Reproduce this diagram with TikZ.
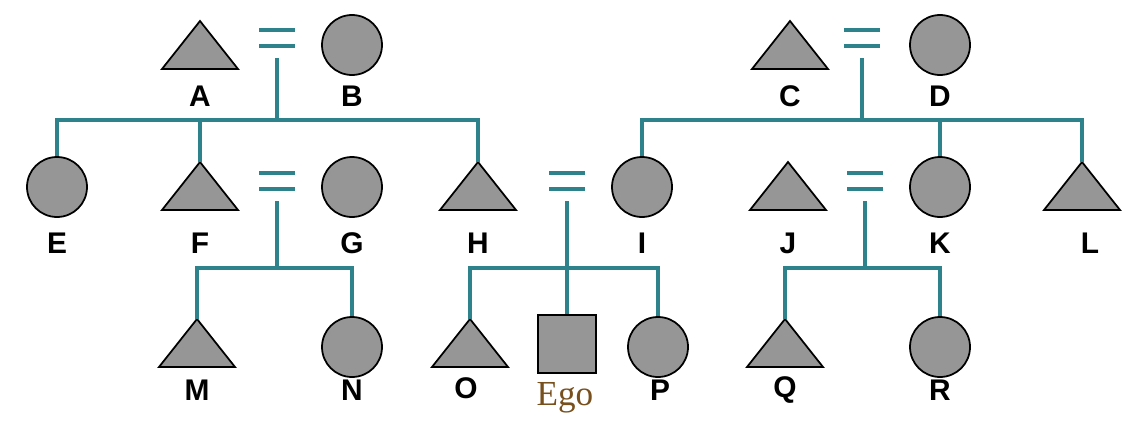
\documentclass[tikz,border=0pt]{standalone}
\usepackage{fontspec}
\setmainfont{Liberation Sans}
\newfontfamily\egofont{Liberation Serif}
\definecolor{teal1}{RGB}{45,130,140}
\definecolor{shp}{RGB}{150,150,150}
\definecolor{egoc}{RGB}{120,80,30}
\begin{document}
\begin{tikzpicture}[x=0.02cm,y=-0.02cm,
  lin/.style={teal1,line width=1.8pt},
  lbl/.style={font=\fontsize{17}{17}\bfseries\selectfont,inner sep=0},
  circ/.style={circle,draw=black,fill=shp,line width=1pt,minimum size=60*0.02cm,inner sep=0}]
\useasboundingbox (0,0) rectangle (1142,433);
\newcommand\tri[3]{\filldraw[fill=shp,draw=black,line width=1pt] (#2-38,#3+24) -- (#2,#3-24) -- (#2+38,#3+24) -- cycle; \coordinate (#1) at (#2,#3-24);}
\newcommand\eq[3]{\draw[lin] (#2-18,#3-8) -- (#2+18,#3-8); \draw[lin] (#2-18,#3+8) -- (#2+18,#3+8); \coordinate (#1) at (#2,#3+20);}
% row 1
\tri{A}{200}{45} \node[lbl] (lA) at (200,96) {A};
\eq{eAB}{277}{38}
\node[circ] (B) at (352,45) {}; \node[lbl] (lB) at (352,96) {B};
\tri{C}{790}{45} \node[lbl] (lC) at (790,96) {C};
\eq{eCD}{862}{38}
\node[circ] (D) at (940,45) {}; \node[lbl] (lD) at (940,96) {D};
% row 2
\node[circ] (E) at (57,187) {}; \node[lbl] (lE) at (57,243) {E};
\tri{F}{200}{186} \node[lbl] (lF) at (200,243) {F};
\eq{eFG}{277}{181}
\node[circ] (G) at (352,187) {}; \node[lbl] (lG) at (352,243) {G};
\tri{H}{478}{186} \node[lbl] (lH) at (478,243) {H};
\eq{eHI}{567}{181}
\node[circ] (I) at (642,187) {}; \node[lbl] (lI) at (642,243) {I};
\tri{J}{788}{186} \node[lbl] (lJ) at (788,243) {J};
\eq{eJK}{865}{181}
\node[circ] (K) at (940,187) {}; \node[lbl] (lK) at (940,243) {K};
\tri{L}{1082}{186} \node[lbl] (lL) at (1090,243) {L};
% row 3
\tri{M}{197}{343} \node[lbl] (lM) at (197,390) {M};
\node[circ] (N) at (352,347) {}; \node[lbl] (lN) at (352,390) {N};
\tri{O}{470}{343} \node[lbl] (lO) at (466,388) {O};
\node[draw=black,fill=shp,line width=1pt,minimum size=58*0.02cm,inner sep=0] (Ego) at (567,344) {};
\node[inner sep=0,text=egoc,font=\egofont\fontsize{20}{20}\selectfont] (lEgo) at (565,398) {Ego};
\node[circ] (P) at (658,347) {}; \node[lbl] (lP) at (660,390) {P};
\tri{Q}{785}{343} \node[lbl] (lQ) at (785,390) {Q};
\node[circ] (R) at (940,347) {}; \node[lbl] (lR) at (940,390) {R};
% connectors
\draw[lin] (eAB) -- (277,120) coordinate (hAB);
\draw[lin] (E.north) |- (hAB) -| (H);
\draw[lin] (F) -- (200,120);
\draw[lin] (eCD) -- (862,120) coordinate (hCD);
\draw[lin] (I.north) |- (hCD) -| (L);
\draw[lin] (K.north) -- (940,120);
\draw[lin] (eFG) -- (277,268) coordinate (hFG);
\draw[lin] (M) |- (hFG) -| (N.north);
\draw[lin] (eHI) -- (Ego.north);
\draw[lin] (O) |- (567,268) -| (P.north);
\draw[lin] (eJK) -- (865,268) coordinate (hJK);
\draw[lin] (Q) |- (hJK) -| (R.north);
\end{tikzpicture}
\end{document}
